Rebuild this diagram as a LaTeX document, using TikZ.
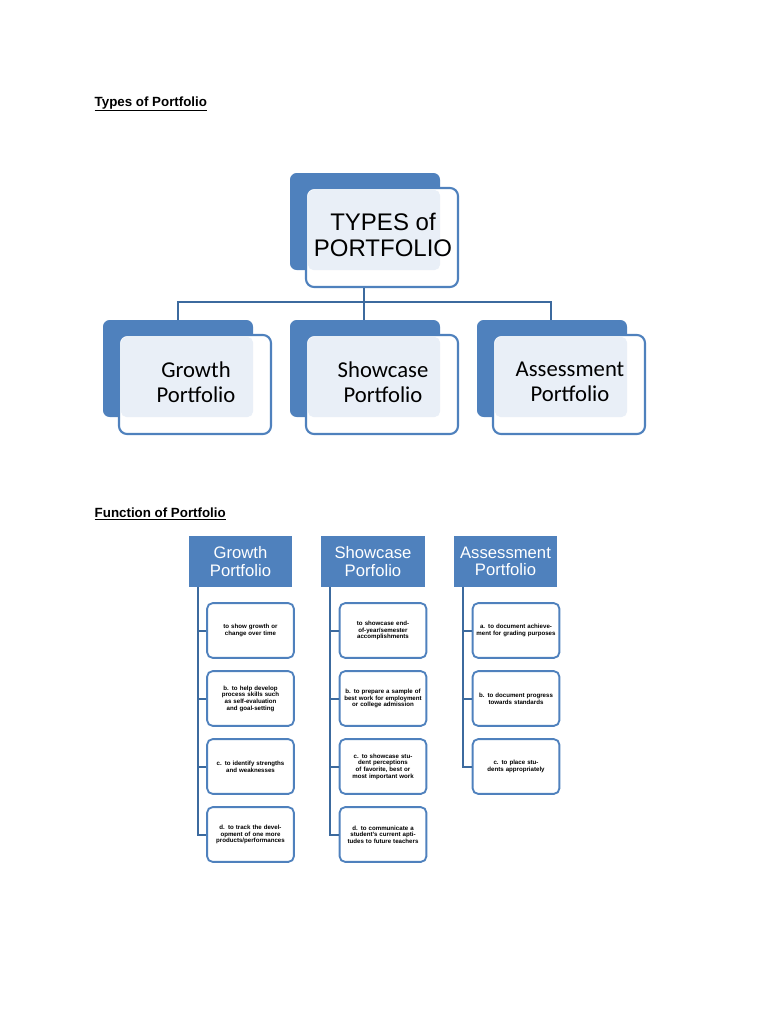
\documentclass[tikz,border=0pt]{standalone}
\usepackage{fontspec}
\setmainfont{Liberation Sans}
\newfontfamily\carlitofont{Carlito}
\begin{document}
\begin{tikzpicture}[x=0.75pt,y=-0.75pt,
  dark/.style={fill=blue1,rounded corners=5pt,draw=none},
  front/.style={fill=white,draw=blue1,line width=1.6pt,rounded corners=6pt},
  conn/.style={draw=blue2,line width=1.5pt},
  head/.style={fill=blue1,text=white,font=\fontsize{12.5}{13}\selectfont,align=center,inner sep=0pt},
  sub/.style={draw=blue1,line width=1.4pt,fill=white,rounded corners=4pt,minimum width=65pt,minimum height=41pt,font=\bfseries\fontsize{4.6}{5}\selectfont,align=center,text width=60pt,inner sep=1pt},
  big/.style={font=\carlitofont\fontsize{17}{19}\selectfont,align=center}]
\definecolor{blue1}{HTML}{4F81BD}
\definecolor{blue2}{HTML}{3C6A9E}
\definecolor{light}{HTML}{E9EFF7}
\useasboundingbox (0,0) rectangle (768,1024);
\node[anchor=base west,font=\bfseries\fontsize{10}{12}\selectfont] (t1) at (90,106) {\underline{Types of Portfolio}};
\node[anchor=base west,font=\bfseries\fontsize{10}{12}\selectfont] (t2) at (90,517) {\underline{Function of Portfolio}};
% top
\coordinate (hub) at (364,302);
\draw[conn] (364,288) -- (hub);
\draw[conn] (178,320) -- (178,302) -- (551,302) -- (551,320);
\draw[conn] (hub) -- (364,320);
\newcommand{\tbox}[6]{%
 \fill[dark] (#1,#2) rectangle (#1+150,#2+97);
 \draw[front] (#1+16,#2+15) rectangle (#1+168,#2+114);
 \fill[light,rounded corners=4pt] (#1+18,#2+17) rectangle (#1+150,#2+97);
 \node[big,#6] (#5) at (#1+93,#2+62) {#3\\#4};}
\tbox{290}{173}{TYPES of}{PORTFOLIO}{top}{font=\fontsize{18}{20}\selectfont}
\tbox{103}{320}{Growth}{Portfolio}{g}{}
\tbox{290}{320}{Showcase}{Portfolio}{s}{}
\tbox{477}{320}{Assessment}{Portfolio}{a}{}
% function
\node[head,minimum width=77pt,minimum height=38pt] (hg) at (240.5,561.5) {Growth\\Portfolio};
\node[head,minimum width=78pt,minimum height=38pt] (hs) at (373,561.5) {Showcase\\Porfolio};
\node[head,minimum width=77pt,minimum height=38pt] (ha) at (505.5,561.5) {Assessment\\Portfolio};
\foreach \n/\x/\t [count=\i] in {
 g1/250.5/{to show growth or change over time},
 g2/250.5/{b. to help develop process skills such as self-evaluation and goal-setting},
 g3/250.5/{c. to identify strengths and weaknesses},
 g4/250.5/{d. to track the development of one more products/performances}}
 {\node[sub] (\n) at (\x,{630.5+68*(\i-1)}) {\t};}
\foreach \n/\t [count=\i] in {
 s1/{to showcase end-of-year/semester accomplishments},
 s2/{b. to prepare a sample of best work for employment or college admission},
 s3/{c. to showcase student perceptions of favorite, best or most important work},
 s4/{d. to communicate a student's current aptitudes to future teachers}}
 {\node[sub] (\n) at (383,{630.5+68*(\i-1)}) {\t};}
\foreach \n/\t [count=\i] in {
 a1/{a. to document achievement for grading purposes},
 a2/{b. to document progress towards standards},
 a3/{c. to place students appropriately}}
 {\node[sub] (\n) at (516,{630.5+68*(\i-1)}) {\t};}
\draw[conn] (198,587) -- (198,834.5) -- (g4.west);
\foreach \n in {g1,g2,g3} \draw[conn] (198,0|-\n.west) -- (\n.west);
\draw[conn] (330,587) -- (330,834.5) -- (s4.west);
\foreach \n in {s1,s2,s3} \draw[conn] (330,0|-\n.west) -- (\n.west);
\draw[conn] (463,587) -- (463,766.5) -- (a3.west);
\foreach \n in {a1,a2} \draw[conn] (463,0|-\n.west) -- (\n.west);
\end{tikzpicture}
\end{document}
